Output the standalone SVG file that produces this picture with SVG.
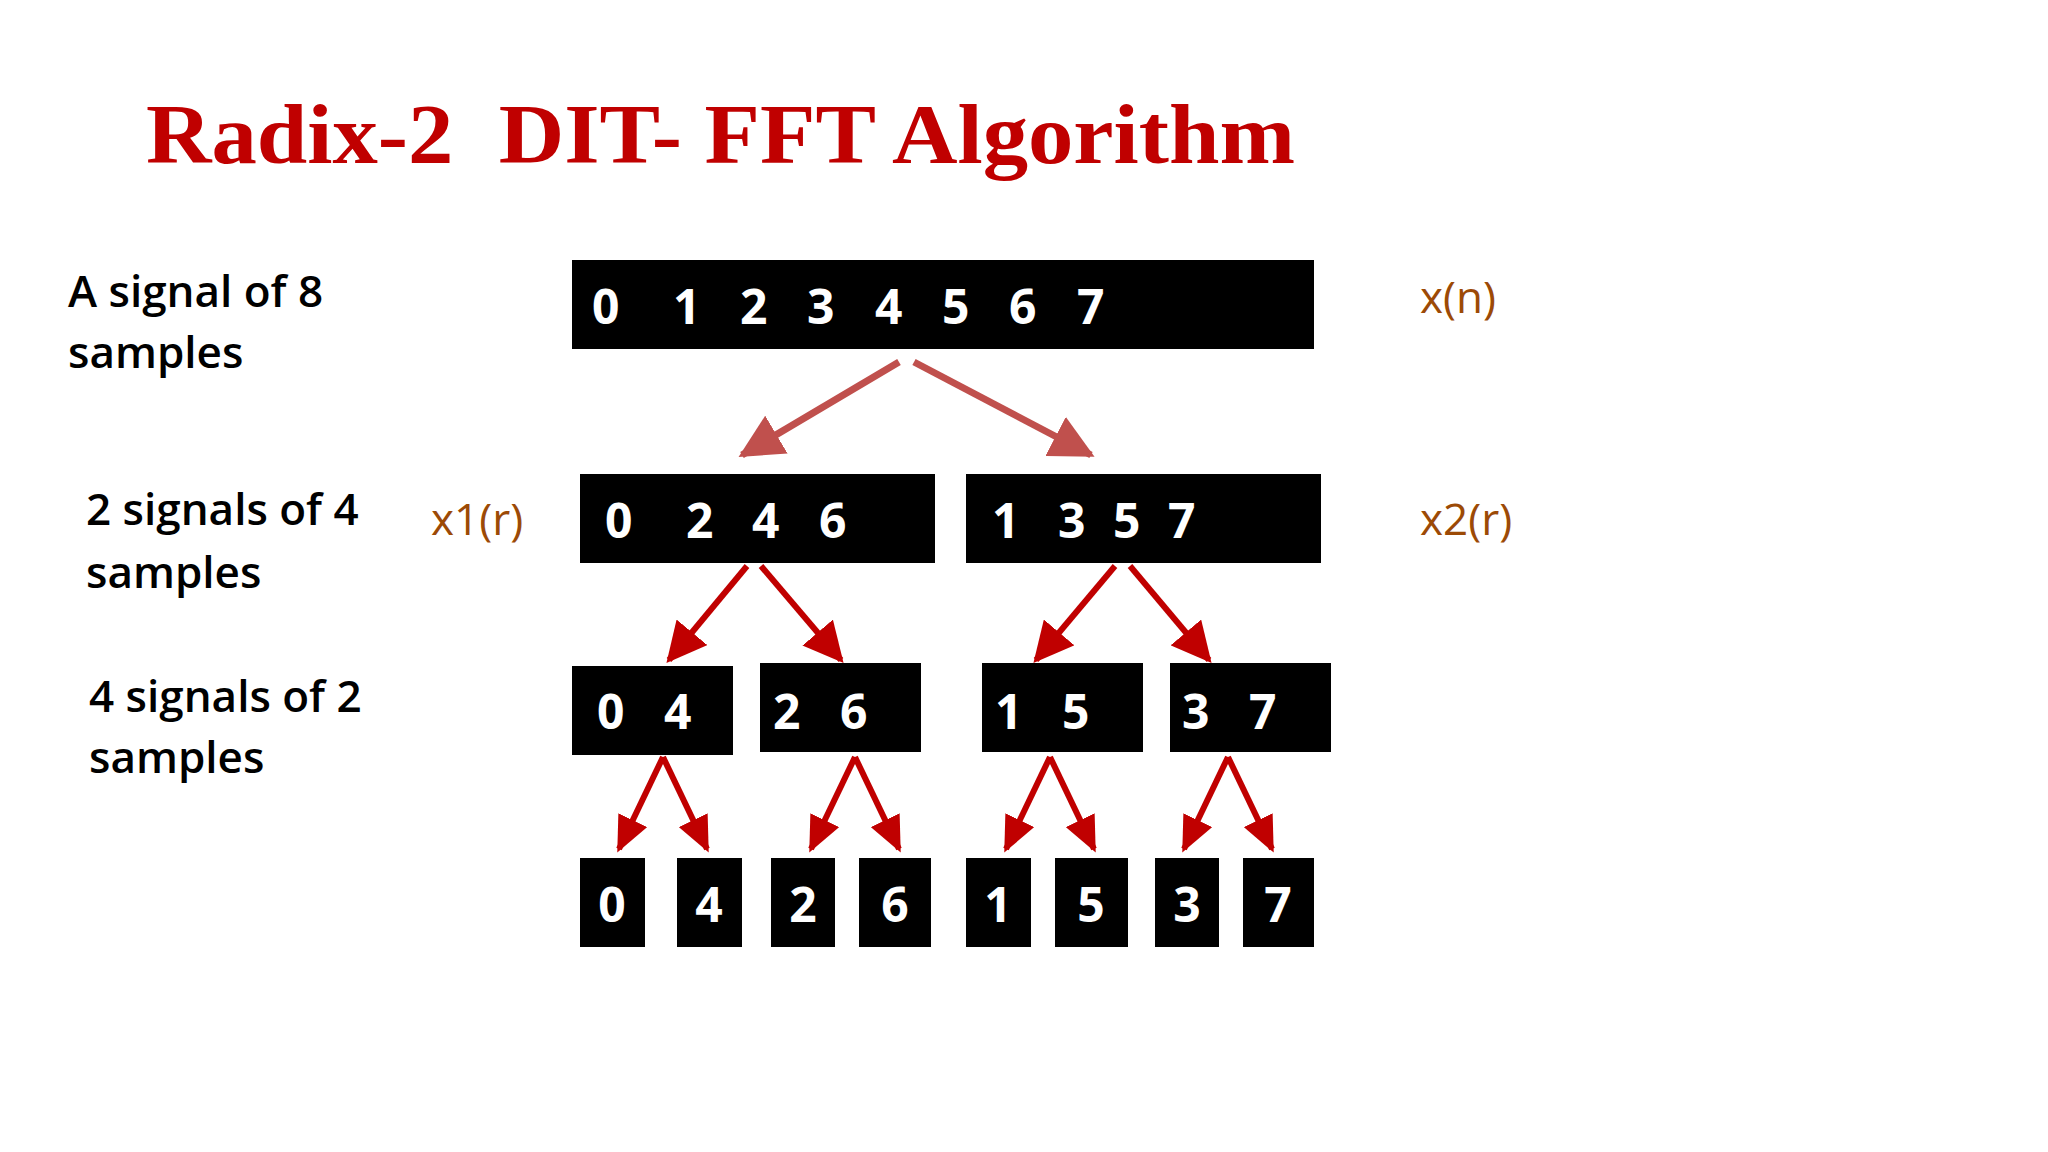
<svg xmlns="http://www.w3.org/2000/svg" width="2048" height="1152" viewBox="0 0 2048 1152">
<style>
.box{fill:#000}
.d{font-family:"Open Sans","Liberation Sans",sans-serif;font-weight:700;font-size:48px;fill:#fff}
.lbl{font-family:"Open Sans","Liberation Sans",sans-serif;font-weight:600;font-size:44px;fill:#000}
.var{font-family:"Open Sans","Liberation Sans",sans-serif;font-size:44px;fill:#9C4A06}
.a1{stroke:#C0504D;stroke-width:7;fill:none}
.a2{stroke:#C00000;stroke-width:6;fill:none}
</style>
<defs>
<marker id="h1" markerUnits="userSpaceOnUse" markerWidth="44" markerHeight="44" refX="40" refY="22" orient="auto" viewBox="0 0 44 44"><path d="M0,0 L44,22 L0,44 z" fill="#C0504D"/></marker>
<marker id="h2" markerUnits="userSpaceOnUse" markerWidth="40" markerHeight="40" refX="36" refY="20" orient="auto" viewBox="0 0 40 40"><path d="M0,0 L40,20 L0,40 z" fill="#C00000"/></marker>
<marker id="h3" markerUnits="userSpaceOnUse" markerWidth="36" markerHeight="32" refX="32" refY="16" orient="auto" viewBox="0 0 36 32"><path d="M0,0 L36,16 L0,32 z" fill="#C00000"/></marker>
</defs>
<rect width="2048" height="1152" fill="#fff"/>
<text x="146" y="163" font-family="Liberation Serif,serif" font-weight="700" font-size="84" fill="#C00000" xml:space="preserve" textLength="1149" lengthAdjust="spacingAndGlyphs">Radix-2  DIT- FFT Algorithm</text>
<g id="labels">
<text class="lbl" x="68" y="307">A signal of 8</text><text class="lbl" x="68" y="368">samples</text>
<text class="lbl" x="86" y="525">2 signals of 4</text><text class="lbl" x="86" y="588">samples</text>
<text class="lbl" x="89" y="712">4 signals of 2</text><text class="lbl" x="89" y="773">samples</text>
<text class="var" x="1420" y="313">x(n)</text>
<text class="var" x="431" y="535">x1(r)</text>
<text class="var" x="1420" y="535">x2(r)</text>
</g>
<g id="n0"><rect class="box" x="572" y="260" width="742" height="89"/>
<text class="d" y="324"><tspan x="592">0</tspan><tspan x="673">1</tspan><tspan x="740">2</tspan><tspan x="807">3</tspan><tspan x="875">4</tspan><tspan x="942">5</tspan><tspan x="1009">6</tspan><tspan x="1077">7</tspan></text></g>
<g id="n1"><rect class="box" x="580" y="474" width="355" height="89"/>
<text class="d" y="538"><tspan x="605">0</tspan><tspan x="686">2</tspan><tspan x="752">4</tspan><tspan x="819">6</tspan></text></g>
<g id="n2"><rect class="box" x="966" y="474" width="355" height="89"/>
<text class="d" y="538"><tspan x="992">1</tspan><tspan x="1058">3</tspan><tspan x="1113">5</tspan><tspan x="1168">7</tspan></text></g>
<g id="n3"><rect class="box" x="572" y="666" width="161" height="89"/><text class="d" y="729"><tspan x="597">0</tspan><tspan x="664">4</tspan></text></g>
<g id="n4"><rect class="box" x="760" y="663" width="161" height="89"/><text class="d" y="729"><tspan x="773">2</tspan><tspan x="840">6</tspan></text></g>
<g id="n5"><rect class="box" x="982" y="663" width="161" height="89"/><text class="d" y="729"><tspan x="995">1</tspan><tspan x="1062">5</tspan></text></g>
<g id="n6"><rect class="box" x="1170" y="663" width="161" height="89"/><text class="d" y="729"><tspan x="1182">3</tspan><tspan x="1249">7</tspan></text></g>
<g id="leaves" text-anchor="middle">
<g id="l0"><rect class="box" x="580" y="858" width="65" height="89"/><text class="d" x="612" y="922">0</text></g>
<g id="l1"><rect class="box" x="677" y="858" width="65" height="89"/><text class="d" x="709" y="922">4</text></g>
<g id="l2"><rect class="box" x="771" y="858" width="64" height="89"/><text class="d" x="803" y="922">2</text></g>
<g id="l3"><rect class="box" x="859" y="858" width="72" height="89"/><text class="d" x="895" y="922">6</text></g>
<g id="l4"><rect class="box" x="966" y="858" width="65" height="89"/><text class="d" x="998" y="922">1</text></g>
<g id="l5"><rect class="box" x="1055" y="858" width="73" height="89"/><text class="d" x="1091" y="922">5</text></g>
<g id="l6"><rect class="box" x="1155" y="858" width="64" height="89"/><text class="d" x="1187" y="922">3</text></g>
<g id="l7"><rect class="box" x="1243" y="858" width="71" height="89"/><text class="d" x="1278" y="922">7</text></g>
</g>
<g id="connectors">
<line class="a1" x1="899" y1="362" x2="742" y2="455" marker-end="url(#h1)"/>
<line class="a1" x1="914" y1="362" x2="1091" y2="455" marker-end="url(#h1)"/>
<line class="a2" x1="747" y1="566" x2="669" y2="660" marker-end="url(#h2)"/>
<line class="a2" x1="761" y1="566" x2="841" y2="660" marker-end="url(#h2)"/>
<line class="a2" x1="1115" y1="566" x2="1036" y2="660" marker-end="url(#h2)"/>
<line class="a2" x1="1130" y1="566" x2="1209" y2="660" marker-end="url(#h2)"/>
<path class="a2" d="M663,757 L619,849" marker-end="url(#h3)"/><path class="a2" d="M663,757 L707,849" marker-end="url(#h3)"/>
<path class="a2" d="M855,757 L811,849" marker-end="url(#h3)"/><path class="a2" d="M855,757 L899,849" marker-end="url(#h3)"/>
<path class="a2" d="M1050,757 L1006,849" marker-end="url(#h3)"/><path class="a2" d="M1050,757 L1094,849" marker-end="url(#h3)"/>
<path class="a2" d="M1228,757 L1184,849" marker-end="url(#h3)"/><path class="a2" d="M1228,757 L1272,849" marker-end="url(#h3)"/>
</g>
</svg>
